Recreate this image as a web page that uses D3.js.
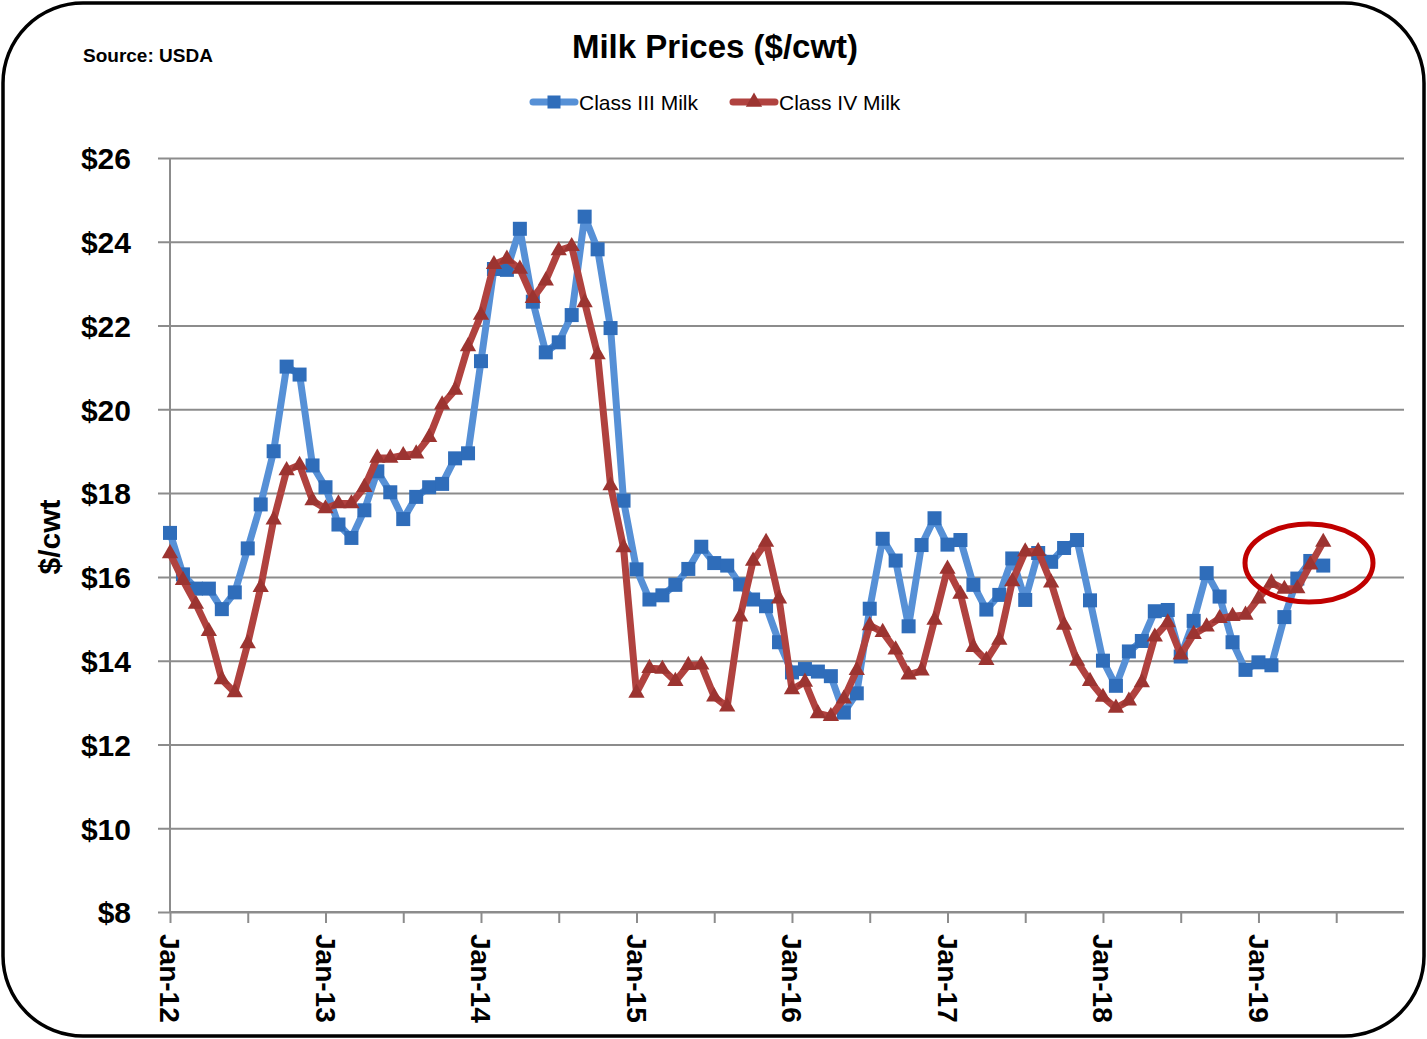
<!DOCTYPE html>
<html>
<head>
<meta charset="utf-8">
<script src="https://cdn.jsdelivr.net/npm/d3@7"></script>
<style>
  html, body { margin: 0; padding: 0; background: #fff; }
  svg { display: block; }
</style>
</head>
<body>
<svg id="chart" width="1427" height="1039"></svg>
<script>
// USDA monthly class prices, $/cwt, Jan-12 .. Jun-19
var class3 = [
  17.05, 16.06, 15.72, 15.72, 15.23, 15.63, 16.68, 17.73, 19.00, 21.02, 20.83, 18.66,
  18.14, 17.25, 16.93, 17.59, 18.52, 18.02, 17.38, 17.91, 18.14, 18.22, 18.83, 18.95,
  21.15, 23.35, 23.33, 24.31, 22.57, 21.36, 21.60, 22.25, 24.60, 23.82, 21.94, 17.82,
  16.18, 15.46, 15.56, 15.81, 16.19, 16.72, 16.33, 16.27, 15.82, 15.46, 15.30, 14.44,
  13.72, 13.80, 13.74, 13.63, 12.76, 13.22, 15.24, 16.91, 16.39, 14.82, 16.76, 17.40,
  16.77, 16.88, 15.81, 15.22, 15.57, 16.44, 15.45, 16.57, 16.36, 16.69, 16.88, 15.44,
  14.00, 13.40, 14.22, 14.47, 15.18, 15.21, 14.10, 14.95, 16.09, 15.53, 14.44, 13.78,
  13.96, 13.89, 15.04, 15.96, 16.38, 16.27
];
var class4 = [
  16.56, 15.92, 15.35, 14.70, 13.55, 13.24, 14.41, 15.75, 17.36, 18.54, 18.67, 17.82,
  17.63, 17.75, 17.75, 18.14, 18.84, 18.84, 18.90, 18.94, 19.33, 20.11, 20.46, 21.50,
  22.25, 23.46, 23.59, 23.35, 22.65, 23.07, 23.79, 23.89, 22.55, 21.31, 18.18, 16.70,
  13.23, 13.82, 13.80, 13.51, 13.89, 13.90, 13.14, 12.90, 15.05, 16.38, 16.83, 15.48,
  13.31, 13.49, 12.74, 12.67, 13.09, 13.77, 14.84, 14.68, 14.26, 13.66, 13.76, 14.97,
  16.19, 15.59, 14.32, 14.01, 14.49, 15.89, 16.60, 16.61, 15.86, 14.85, 13.99, 13.51,
  13.13, 12.87, 13.04, 13.48, 14.57, 14.91, 14.14, 14.63, 14.81, 15.01, 15.06, 15.09,
  15.48, 15.86, 15.71, 15.72, 16.29, 16.83
];
var yearLabels = ['Jan-12', 'Jan-13', 'Jan-14', 'Jan-15', 'Jan-16', 'Jan-17', 'Jan-18', 'Jan-19'];
var yTicks = [8, 10, 12, 14, 16, 18, 20, 22, 24, 26];
var seriesNames = ['Class III Milk', 'Class IV Milk'];
var monthCount = 95; // axis runs Jan-12 .. Dec-19

var svg = d3.select('#chart');
var family = '"Liberation Sans", Arial, sans-serif';
var gridColor = '#8c8c8c';
var blueLine = '#5690d6', blueMark = '#2f6dba';
var redLine = '#b0423f', redMark = '#9c3431';

// frame
svg.append('rect')
    .attr('x', 3).attr('y', 3)
    .attr('width', 1421).attr('height', 1033)
    .attr('rx', 80).attr('ry', 80)
    .attr('fill', '#fff')
    .attr('stroke', '#000')
    .attr('stroke-width', 3.5);

var plot = {left: 170, right: 1401, top: 158, bottom: 912, gridEnd: 1404};

var x = d3.scaleLinear().domain([0, monthCount]).range([plot.left, plot.right]);
var y = d3.scaleLinear().domain([8, 26]).range([plot.bottom, plot.top]);

// horizontal grid + y axis
var yAxis = d3.axisLeft(y)
    .tickValues(yTicks)
    .tickFormat(function(d){ return '$' + d; });
var yg = svg.append('g')
    .attr('transform', 'translate(' + (plot.left - 12) + ',0)')
    .call(yAxis);
yg.select('.domain').remove();
yg.selectAll('.tick line')
    .attr('x1', 0)
    .attr('x2', plot.gridEnd - plot.left + 12)
    .attr('stroke', gridColor)
    .attr('stroke-width', 2);
yg.selectAll('.tick text')
    .attr('x', -27)
    .attr('dy', '0.36em')
    .style('font-family', family)
    .style('font-size', '30px')
    .style('font-weight', 'bold')
    .style('fill', '#000');

// vertical axis line
svg.append('line')
    .attr('x1', plot.left).attr('x2', plot.left)
    .attr('y1', plot.top).attr('y2', plot.bottom)
    .attr('stroke', gridColor).attr('stroke-width', 2);

// x axis, ticks every 6 months, labels every January
var tickIdx = d3.range(0, monthCount, 6);
var xAxis = d3.axisBottom(x)
    .tickValues(tickIdx)
    .tickSize(11)
    .tickFormat(function(d){ return d % 12 === 0 ? yearLabels[d / 12] : ''; });
var xg = svg.append('g')
    .attr('transform', 'translate(0,' + plot.bottom + ')')
    .call(xAxis);
xg.select('.domain')
    .attr('d', 'M' + plot.left + ',0H' + plot.gridEnd)
    .attr('stroke', gridColor).attr('stroke-width', 2);
xg.selectAll('.tick line').attr('stroke', gridColor).attr('stroke-width', 2);
xg.selectAll('.tick text')
    .attr('transform', 'rotate(90)')
    .attr('x', 22)
    .attr('y', 0)
    .attr('dy', '0.36em')
    .style('text-anchor', 'start')
    .style('font-family', family)
    .style('font-size', '28px')
    .style('font-weight', 'bold')
    .style('fill', '#000');

// y axis title
svg.append('text')
    .attr('transform', 'translate(60,537) rotate(-90)')
    .style('text-anchor', 'middle')
    .style('font-family', family)
    .style('font-size', '30px')
    .style('font-weight', 'bold')
    .text('$/cwt');

// title and source
svg.append('text')
    .attr('x', 715).attr('y', 58)
    .style('text-anchor', 'middle')
    .style('font-family', family)
    .style('font-size', '33px')
    .style('font-weight', 'bold')
    .text('Milk Prices ($/cwt)');
svg.append('text')
    .attr('x', 83).attr('y', 62)
    .style('font-family', family)
    .style('font-size', '19px')
    .style('font-weight', 'bold')
    .text('Source: USDA');

// series
var line = d3.line()
    .x(function(d, i){ return x(i); })
    .y(function(d){ return y(d); });
var tri = d3.symbol().type(d3.symbolTriangle).size(115);

svg.append('path')
    .datum(class3)
    .attr('d', line)
    .attr('fill', 'none')
    .attr('stroke', blueLine)
    .attr('stroke-width', 7)
    .attr('stroke-linejoin', 'round');
svg.append('g').selectAll('rect')
    .data(class3)
    .enter()
    .append('rect')
    .attr('x', function(d, i){ return x(i) - 7; })
    .attr('y', function(d){ return y(d) - 7; })
    .attr('width', 14).attr('height', 14)
    .attr('fill', blueMark);

svg.append('path')
    .datum(class4)
    .attr('d', line)
    .attr('fill', 'none')
    .attr('stroke', redLine)
    .attr('stroke-width', 7)
    .attr('stroke-linejoin', 'round');
svg.append('g').selectAll('path')
    .data(class4)
    .enter()
    .append('path')
    .attr('d', tri)
    .attr('transform', function(d, i){ return 'translate(' + x(i) + ',' + y(d) + ')'; })
    .attr('fill', redMark);

// highlight ring round the latest months
svg.append('ellipse')
    .attr('cx', x(87.9)).attr('cy', y(16.33))
    .attr('rx', 64).attr('ry', 39)
    .attr('fill', 'none')
    .attr('stroke', '#c00000')
    .attr('stroke-width', 5);

// legend
var legend = [
  {name: seriesNames[0], x: 530, line: blueLine, mark: blueMark, kind: 'square'},
  {name: seriesNames[1], x: 730, line: redLine, mark: redMark, kind: 'tri'}
];
var lg = svg.append('g').attr('transform', 'translate(0,102)');
legend.forEach(function(d){
    lg.append('line')
        .attr('x1', d.x + 3).attr('x2', d.x + 45)
        .attr('y1', 0).attr('y2', 0)
        .attr('stroke', d.line).attr('stroke-width', 7)
        .attr('stroke-linecap', 'round');
    if (d.kind === 'square') {
        lg.append('rect')
            .attr('x', d.x + 24 - 6.5).attr('y', -6.5)
            .attr('width', 13).attr('height', 13)
            .attr('fill', d.mark);
    } else {
        lg.append('path')
            .attr('d', tri)
            .attr('transform', 'translate(' + (d.x + 24) + ',0)')
            .attr('fill', d.mark);
    }
    lg.append('text')
        .attr('x', d.x + 49).attr('y', 7.5)
        .style('font-family', family)
        .style('font-size', '21px')
        .text(d.name);
});
</script>
</body>
</html>
